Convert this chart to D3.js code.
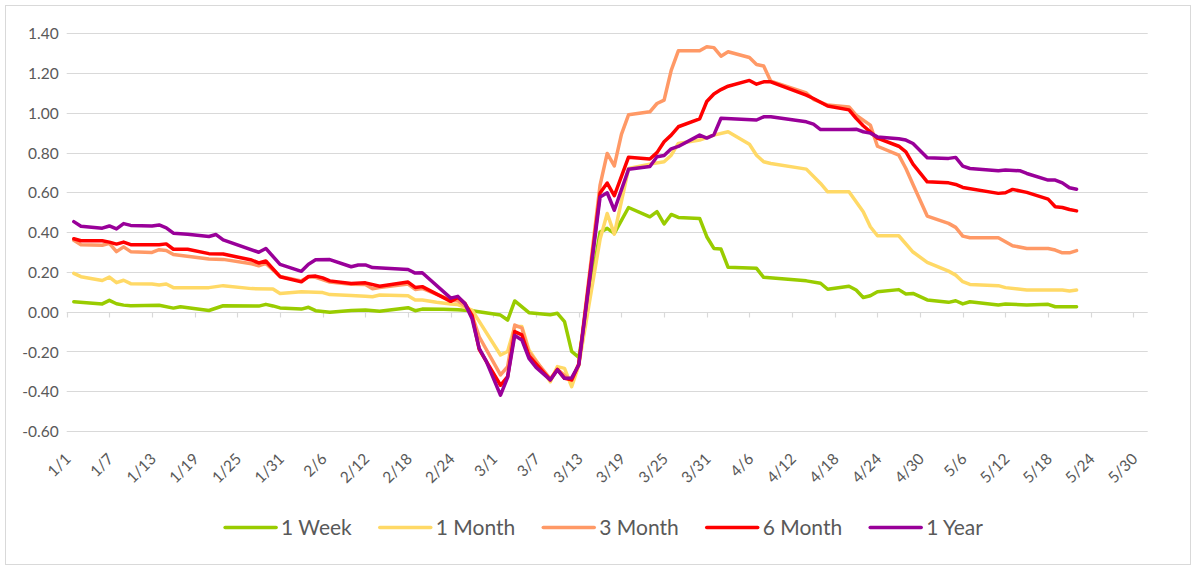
<!DOCTYPE html>
<html>
<head>
<meta charset="utf-8">
<script src="https://cdn.jsdelivr.net/npm/d3@7"></script>
<style>
  body { margin: 0; background: #fff; }
  svg text { font-family: Lato, "Open Sans", sans-serif; fill: #595959; }
</style>
</head>
<body>
<svg id="chart" width="1196" height="572"></svg>
<script>
// series: [date, value]
var week = [["1/1",0.050],["1/5",0.039],["1/6",0.057],["1/7",0.040],["1/8",0.033],["1/9",0.030],["1/13",0.032],
  ["1/15",0.018],["1/16",0.025],["1/20",0.006],["1/22",0.030],["1/27",0.028],["1/28",0.037],["1/29",0.029],["1/30",0.019],
  ["2/2",0.013],["2/3",0.022],["2/4",0.005],["2/6",-0.003],["2/9",0.006],["2/11",0.009],["2/13",0.002],["2/17",0.020],
  ["2/18",0.005],["2/19",0.013],["2/22",0.012],["2/24",0.010],["2/26",0.005],["3/1",-0.017],["3/2",-0.042],["3/3",0.054],
  ["3/5",-0.005],["3/8",-0.015],["3/9",-0.008],["3/10",-0.05],["3/11",-0.20],["3/12",-0.23],["3/15",0.40],["3/16",0.419],
  ["3/17",0.394],["3/19",0.524],["3/22",0.477],["3/23",0.503],["3/24",0.441],["3/25",0.489],["3/26",0.474],["3/29",0.469],
  ["3/30",0.377],["3/31",0.318],["4/1",0.315],["4/2",0.223],["4/6",0.218],["4/7",0.173],["4/13",0.155],["4/15",0.143],
  ["4/16",0.113],["4/19",0.128],["4/20",0.109],["4/21",0.071],["4/22",0.080],["4/23",0.100],["4/26",0.111],["4/27",0.089],
  ["4/28",0.092],["4/30",0.059],["5/3",0.047],["5/4",0.055],["5/5",0.039],["5/6",0.050],["5/10",0.034],["5/11",0.039],
  ["5/14",0.034],["5/17",0.037],["5/18",0.025],["5/21",0.025]];

var month1 = [["1/1",0.193],["1/2",0.176],["1/5",0.157],["1/6",0.174],["1/7",0.146],["1/8",0.158],["1/9",0.141],["1/12",0.139],
  ["1/13",0.134],["1/14",0.139],["1/15",0.121],["1/20",0.121],["1/22",0.131],["1/26",0.116],["1/29",0.114],["1/30",0.091],
  ["2/2",0.100],["2/3",0.099],["2/5",0.096],["2/6",0.086],["2/9",0.082],["2/11",0.078],["2/12",0.075],["2/13",0.084],
  ["2/17",0.080],["2/18",0.059],["2/19",0.059],["2/21",0.047],["2/23",0.039],["2/24",0.036],["2/26",0.008],["3/1",-0.218],
  ["3/2",-0.20],["3/3",-0.075],["3/4",-0.075],["3/5",-0.193],["3/8",-0.352],["3/9",-0.276],["3/10",-0.285],["3/11",-0.377],
  ["3/12",-0.27],["3/15",0.365],["3/16",0.494],["3/17",0.39],["3/19",0.72],["3/22",0.742],["3/24",0.754],["3/25",0.787],
  ["3/26",0.846],["3/29",0.863],["3/30",0.875],["3/31",0.888],["4/2",0.905],["4/5",0.842],["4/6",0.787],["4/7",0.754],
  ["4/8",0.745],["4/13",0.717],["4/15",0.645],["4/16",0.603],["4/19",0.603],["4/21",0.503],["4/22",0.427],["4/23",0.382],
  ["4/26",0.382],["4/28",0.30],["4/30",0.248],["5/3",0.204],["5/4",0.184],["5/5",0.151],["5/6",0.137],["5/10",0.131],
  ["5/11",0.121],["5/14",0.109],["5/19",0.109],["5/20",0.104],["5/21",0.109]];

var month3 = [["1/1",0.359],["1/2",0.337],["1/5",0.334],["1/6",0.344],["1/7",0.302],["1/8",0.326],["1/9",0.302],["1/12",0.298],
  ["1/13",0.312],["1/14",0.308],["1/15",0.288],["1/20",0.265],["1/22",0.263],["1/26",0.241],["1/27",0.231],["1/28",0.243],
  ["1/30",0.177],["2/2",0.155],["2/3",0.176],["2/4",0.173],["2/6",0.149],["2/9",0.138],["2/11",0.137],["2/12",0.115],
  ["2/13",0.122],["2/17",0.139],["2/18",0.112],["2/19",0.117],["2/23",0.058],["2/24",0.055],["2/25",0.030],["2/26",-0.017],
  ["2/27",-0.126],["3/1",-0.318],["3/2",-0.276],["3/3",-0.067],["3/4",-0.082],["3/5",-0.205],["3/8",-0.338],["3/9",-0.29],
  ["3/10",-0.32],["3/11",-0.345],["3/12",-0.262],["3/15",0.637],["3/16",0.796],["3/17",0.733],["3/18",0.892],["3/19",0.99],
  ["3/22",1.005],["3/23",1.047],["3/24",1.064],["3/25",1.214],["3/26",1.312],["3/29",1.312],["3/30",1.332],["3/31",1.328],
  ["4/1",1.285],["4/2",1.307],["4/5",1.278],["4/6",1.243],["4/7",1.236],["4/8",1.159],["4/13",1.10],["4/14",1.068],
  ["4/16",1.039],["4/19",1.03],["4/20",0.988],["4/22",0.938],["4/23",0.832],["4/26",0.787],["4/27",0.72],["4/28",0.64],
  ["4/30",0.481],["5/3",0.444],["5/4",0.424],["5/5",0.38],["5/6",0.372],["5/10",0.372],["5/11",0.352],["5/12",0.332],
  ["5/14",0.318],["5/17",0.318],["5/18",0.31],["5/19",0.296],["5/20",0.296],["5/21",0.307]];

var month6 = [["1/1",0.367],["1/2",0.357],["1/5",0.357],["1/6",0.350],["1/7",0.340],["1/8",0.350],["1/9",0.337],["1/13",0.337],
  ["1/14",0.341],["1/15",0.314],["1/17",0.314],["1/20",0.292],["1/22",0.290],["1/26",0.260],["1/27",0.245],["1/28",0.255],
  ["1/30",0.176],["2/2",0.150],["2/3",0.177],["2/4",0.179],["2/5",0.170],["2/6",0.155],["2/9",0.142],["2/11",0.145],
  ["2/13",0.128],["2/17",0.149],["2/18",0.122],["2/19",0.126],["2/23",0.052],["2/24",0.072],["2/25",0.042],["2/26",-0.02],
  ["2/27",-0.19],["3/1",-0.37],["3/2",-0.327],["3/3",-0.10],["3/4",-0.117],["3/5",-0.222],["3/8",-0.343],["3/9",-0.29],
  ["3/10",-0.335],["3/11",-0.343],["3/12",-0.265],["3/15",0.597],["3/16",0.647],["3/17",0.583],["3/19",0.777],["3/22",0.768],
  ["3/23",0.80],["3/24",0.855],["3/25",0.888],["3/26",0.93],["3/29",0.97],["3/30",1.057],["3/31",1.095],["4/1",1.117],
  ["4/2",1.134],["4/5",1.163],["4/6",1.144],["4/7",1.156],["4/8",1.156],["4/13",1.089],["4/14",1.072],["4/16",1.034],
  ["4/19",1.015],["4/20",0.972],["4/21",0.935],["4/23",0.873],["4/26",0.832],["4/27",0.804],["4/28",0.742],["4/30",0.653],
  ["5/3",0.648],["5/4",0.64],["5/5",0.625],["5/10",0.595],["5/11",0.598],["5/12",0.615],["5/14",0.60],["5/17",0.566],
  ["5/18",0.528],["5/19",0.524],["5/20",0.514],["5/21",0.507]];

var year1 = [["1/1",0.453],["1/2",0.430],["1/5",0.420],["1/6",0.431],["1/7",0.416],["1/8",0.443],["1/9",0.434],["1/12",0.431],
  ["1/13",0.436],["1/14",0.422],["1/15",0.395],["1/17",0.390],["1/20",0.378],["1/21",0.388],["1/22",0.361],["1/27",0.299],
  ["1/28",0.318],["1/30",0.238],["2/2",0.203],["2/3",0.239],["2/4",0.261],["2/6",0.262],["2/9",0.226],["2/10",0.235],
  ["2/11",0.235],["2/12",0.222],["2/17",0.212],["2/18",0.194],["2/19",0.196],["2/23",0.068],["2/24",0.077],["2/25",0.040],
  ["2/26",-0.036],["2/27",-0.184],["2/28",-0.25],["3/1",-0.42],["3/2",-0.33],["3/3",-0.12],["3/4",-0.142],["3/5",-0.235],
  ["3/6",-0.28],["3/8",-0.343],["3/9",-0.293],["3/10",-0.335],["3/11",-0.333],["3/12",-0.268],["3/15",0.577],["3/16",0.598],
  ["3/17",0.51],["3/19",0.716],["3/22",0.73],["3/23",0.779],["3/24",0.785],["3/25",0.819],["3/26",0.831],["3/29",0.888],
  ["3/30",0.873],["3/31",0.889],["4/1",0.973],["4/6",0.964],["4/7",0.98],["4/8",0.98],["4/13",0.955],["4/14",0.943],
  ["4/15",0.916],["4/19",0.916],["4/20",0.918],["4/21",0.905],["4/22",0.898],["4/23",0.879],["4/26",0.87],["4/27",0.863],
  ["4/28",0.846],["4/30",0.774],["5/3",0.771],["5/4",0.776],["5/5",0.732],["5/6",0.72],["5/10",0.709],["5/11",0.712],
  ["5/13",0.709],["5/14",0.695],["5/17",0.662],["5/18",0.662],["5/19",0.648],["5/20",0.623],["5/21",0.616]];

var seriesNames = ["1 Week", "1 Month", "3 Month", "6 Month", "1 Year"];
var seriesColors = ["#99cc00", "#ffd966", "#ff9966", "#ff0000", "#990099"];
var seriesData = [week, month1, month3, month6, year1];

var xLabels = ["1/1","1/7","1/13","1/19","1/25","1/31","2/6","2/12","2/18","2/24","3/1","3/7","3/13",
  "3/19","3/25","3/31","4/6","4/12","4/18","4/24","4/30","5/6","5/12","5/18","5/24","5/30"];
var yTicks = [-0.6, -0.4, -0.2, 0, 0.2, 0.4, 0.6, 0.8, 1.0, 1.2, 1.4];

var svg = d3.select("#chart"),
    plot = {left: 66.7, right: 1147.7, top: 33.3, bottom: 431},
    days = 152;

var start = new Date(2020, 0, 1);
function dayIndex(s) {
  var p = s.split("/");
  return d3.timeDay.count(start, new Date(2020, +p[0] - 1, +p[1]));
}

var x = d3.scaleLinear().domain([0, days]).range([plot.left, plot.right]),
    y = d3.scaleLinear().domain([-0.6, 1.4]).range([plot.bottom, plot.top]);

function fmt(v) {
  var s = Math.abs(v) < 1e-9 ? "0.00" : v.toFixed(2);
  return s;
}

// outer border
svg.append("rect")
    .attr("x", 5.5).attr("y", 5.5)
    .attr("width", 1185).attr("height", 559)
    .attr("fill", "none")
    .attr("stroke", "#d9d9d9");

// gridlines
svg.append("g").selectAll("line").data(yTicks).enter().append("line")
    .attr("x1", x(0)).attr("x2", x(days))
    .attr("y1", function(d) { return Math.round(y(d)) + 0.5; })
    .attr("y2", function(d) { return Math.round(y(d)) + 0.5; })
    .attr("stroke", "#d9d9d9")
    .attr("stroke-width", 1.2);

// y axis labels
var yAxis = svg.append("g")
    .attr("transform", "translate(" + plot.left + ",0)")
    .call(d3.axisLeft(y).tickValues(yTicks).tickFormat(fmt).tickSize(0).tickPadding(8));
yAxis.select(".domain").remove();
yAxis.selectAll("text")
    .attr("font-size", "15.5px")
    .attr("font-family", null)
    .attr("dy", "0.36em");

// x tick marks on the zero line
var zeroY = Math.round(y(0)) + 0.5;
svg.append("g").selectAll("line").data(xLabels).enter().append("line")
    .attr("x1", function(d) { return Math.round(x(dayIndex(d))) + 0.5; })
    .attr("x2", function(d) { return Math.round(x(dayIndex(d))) + 0.5; })
    .attr("y1", zeroY).attr("y2", zeroY + 5)
    .attr("stroke", "#d9d9d9")
    .attr("stroke-width", 1.2);

// x labels, rotated
svg.append("g").selectAll("text").data(xLabels).enter().append("text")
    .attr("transform", function(d) {
      return "translate(" + (x(dayIndex(d) + 0.5) + 1.5) + ",460) rotate(-45)";
    })
    .attr("text-anchor", "end")
    .attr("font-size", "15.5px")
    .text(function(d) { return d; });

// series lines
var line = d3.line()
    .x(function(d) { return x(dayIndex(d[0]) + 1); })
    .y(function(d) { return y(d[1]); });

svg.append("g").selectAll("path").data(seriesData).enter().append("path")
    .attr("d", line)
    .attr("fill", "none")
    .attr("stroke", function(d, i) { return seriesColors[i]; })
    .attr("stroke-width", 3.5)
    .attr("stroke-linejoin", "round")
    .attr("stroke-linecap", "round");

// legend
var legend = svg.append("g");
var lx = 0;
seriesNames.forEach(function(name, i) {
  var item = legend.append("g").attr("transform", "translate(" + lx + ",0)");
  item.append("line")
      .attr("x1", 0).attr("x2", 51)
      .attr("y1", 527.5).attr("y2", 527.5)
      .attr("stroke", seriesColors[i])
      .attr("stroke-width", 3.5)
      .attr("stroke-linecap", "round");
  var t = item.append("text")
      .attr("x", 56).attr("y", 535)
      .attr("font-size", "21px")
      .text(name);
  lx += 56 + t.node().getComputedTextLength() + 28;
});
var legendWidth = lx - 28;
legend.attr("transform", "translate(" + (604 - legendWidth / 2) + ",0)");
</script>
</body>
</html>
